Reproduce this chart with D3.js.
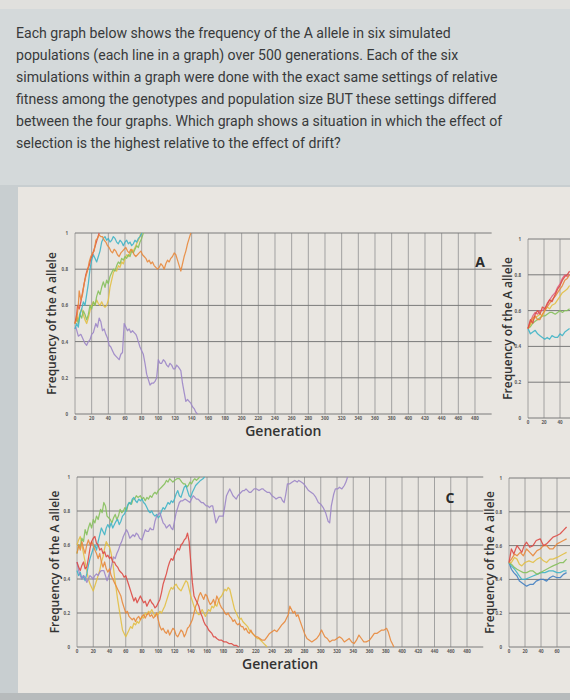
<!DOCTYPE html>
<html>
<head>
<meta charset="utf-8">
<script src="https://cdn.jsdelivr.net/npm/d3@7"></script>
<style>
  html, body { margin: 0; padding: 0; background: #c9cfd1; }
  svg { display: block; }
</style>
</head>
<body>
<svg id="chart" width="570" height="700"></svg>
<script>
// question text, one entry per line
const questionLines = [
  "Each graph below shows the frequency of the A allele in six simulated",
  "populations (each line in a graph) over 500 generations. Each of the six",
  "simulations within a graph were done with the exact same settings of relative",
  "fitness among the genotypes and population size BUT these settings differed",
  "between the four graphs. Which graph shows a situation in which the effect of",
  "selection is the highest relative to the effect of drift?"
];

const yTicks = [0, 0.2, 0.4, 0.6, 0.8, 1];
const yTickLabels = ["0", "0.2", "0.4", "0.6", "0.8", "1"];
const genTicks = d3.range(0, 481, 20); // 0 .. 480
const yTitle = "Frequency of the A allele";
const xTitle = "Generation";

// graph A  [generation, frequency]
const aPurple = [[0,0.47],[1,0.48],[4,0.43],[7,0.44],[10,0.41],[12,0.39],[14,0.38],[16,0.4],[18,0.41],[20,0.44],[22,0.45],[25,0.5],[27,0.48],[29,0.53],[31,0.51],[33,0.46],[35,0.47],[37,0.44],[39,0.42],[41,0.38],[43,0.37],[45,0.35],[47,0.33],[49,0.32],[51,0.31],[53,0.3],[55,0.33],[57,0.34],[59,0.5],[61,0.48],[63,0.46],[65,0.47],[67,0.45],[69,0.46],[71,0.45],[73,0.44],[74,0.43],[76,0.4],[78,0.37],[80,0.35],[82,0.33],[84,0.28],[86,0.22],[88,0.19],[90,0.16],[92,0.17],[94,0.17],[96,0.18],[98,0.2],[100,0.3],[102,0.28],[104,0.28],[106,0.3],[108,0.29],[110,0.27],[112,0.26],[114,0.28],[116,0.27],[118,0.25],[120,0.25],[122,0.27],[124,0.26],[127,0.24],[129,0.17],[131,0.12],[133,0.07],[135,0.08],[137,0.07],[139,0.06],[141,0.04],[143,0.03],[145,0.01],[147,0]];
const aOrange = [[0,0.5],[2,0.52],[4,0.6],[5,0.68],[7,0.63],[9,0.66],[11,0.72],[13,0.76],[15,0.79],[17,0.84],[19,0.87],[21,0.89],[23,0.9],[25,0.96],[27,0.97],[29,0.99],[31,0.98],[33,0.98],[35,0.96],[37,0.95],[39,0.93],[41,0.92],[43,0.9],[45,0.89],[47,0.91],[49,0.9],[51,0.88],[53,0.87],[55,0.89],[57,0.9],[59,0.91],[61,0.92],[63,0.9],[65,0.89],[67,0.91],[69,0.9],[71,0.88],[73,0.87],[75,0.88],[77,0.89],[79,0.9],[81,0.88],[83,0.87],[85,0.86],[87,0.84],[89,0.85],[91,0.83],[93,0.84],[95,0.82],[97,0.81],[99,0.8],[101,0.81],[103,0.83],[105,0.82],[107,0.8],[109,0.83],[111,0.85],[113,0.84],[115,0.86],[117,0.87],[119,0.89],[121,0.88],[123,0.85],[125,0.82],[127,0.79],[129,0.83],[131,0.87],[133,0.9],[135,0.94],[137,0.97],[139,1]];
const aRed = [[0,0.5],[2,0.55],[3,0.6],[5,0.58],[7,0.62],[9,0.67],[11,0.72],[13,0.77],[15,0.8],[17,0.82],[19,0.86],[21,0.88],[23,0.91],[25,0.94],[27,0.97],[29,1]];
const aCyan = [[0,0.47],[2,0.5],[4,0.48],[6,0.55],[8,0.58],[10,0.62],[12,0.6],[14,0.66],[16,0.72],[18,0.8],[20,0.85],[22,0.88],[24,0.86],[26,0.84],[28,0.87],[30,0.9],[32,0.95],[34,0.97],[36,0.98],[38,0.96],[40,0.97],[42,0.95],[44,0.96],[46,0.98],[48,0.97],[50,0.95],[52,0.94],[54,0.96],[56,0.95],[58,0.93],[60,0.95],[62,0.96],[64,0.94],[66,0.95],[68,0.93],[70,0.94],[72,0.96],[74,0.95],[76,0.97],[78,0.98],[80,1]];
const aGreen = [[0,0.5],[2,0.53],[4,0.5],[6,0.55],[8,0.53],[10,0.57],[12,0.55],[14,0.52],[16,0.55],[18,0.6],[20,0.58],[22,0.62],[24,0.6],[26,0.65],[28,0.68],[30,0.66],[32,0.7],[34,0.73],[36,0.7],[38,0.74],[40,0.72],[42,0.76],[44,0.78],[46,0.8],[48,0.79],[50,0.82],[52,0.84],[54,0.83],[56,0.86],[58,0.85],[60,0.87],[62,0.86],[64,0.88],[66,0.87],[68,0.9],[70,0.89],[72,0.91],[74,0.93],[76,0.92],[78,0.95],[80,0.97],[82,1]];
const aYellow = [[0,0.5],[2,0.54],[4,0.52],[6,0.56],[8,0.58],[10,0.55],[12,0.52],[14,0.5],[16,0.53],[18,0.57],[20,0.6],[22,0.62],[24,0.6],[26,0.63],[28,0.61],[30,0.6],[32,0.62],[34,0.6],[36,0.59],[38,0.6],[40,0.63],[42,0.7],[44,0.74],[46,0.78],[48,0.8],[50,0.79],[52,0.82],[54,0.81],[56,0.84],[58,0.83],[60,0.86],[62,0.88],[64,0.87],[66,0.89],[68,0.91],[70,0.9],[72,0.92],[74,0.94],[76,0.96],[78,0.98],[79,1]];

// graph C
const cGreen = [[0,0.55],[2,0.6],[4,0.59],[6,0.64],[8,0.62],[10,0.69],[12,0.66],[14,0.7],[16,0.73],[18,0.7],[20,0.75],[22,0.73],[24,0.77],[26,0.75],[29,0.81],[31,0.79],[33,0.85],[35,0.83],[37,0.77],[39,0.76],[41,0.75],[43,0.73],[45,0.76],[47,0.78],[49,0.75],[51,0.77],[53,0.81],[55,0.79],[57,0.8],[59,0.82],[61,0.8],[63,0.84],[65,0.85],[67,0.84],[69,0.87],[71,0.87],[73,0.89],[75,0.88],[78,0.89],[80,0.87],[82,0.88],[84,0.86],[86,0.88],[88,0.87],[90,0.89],[92,0.88],[94,0.9],[96,0.91],[98,0.9],[100,0.92],[102,0.93],[104,0.94],[106,0.95],[108,0.96],[110,0.98],[112,0.97],[114,0.99],[116,0.98],[118,0.97],[120,0.98],[123,0.99],[126,0.99],[129,0.97],[131,0.96],[133,0.96],[135,0.94],[137,0.95],[139,0.97],[141,0.96],[143,0.98],[145,0.99],[147,0.98],[149,0.99],[151,1]];
const cCyan = [[0,0.45],[2,0.42],[4,0.44],[6,0.4],[8,0.42],[10,0.39],[12,0.43],[14,0.48],[16,0.52],[18,0.55],[20,0.58],[22,0.6],[24,0.57],[26,0.62],[28,0.66],[30,0.7],[32,0.68],[34,0.66],[36,0.7],[38,0.72],[40,0.7],[42,0.73],[44,0.7],[46,0.72],[48,0.74],[50,0.75],[52,0.72],[54,0.74],[56,0.77],[58,0.78],[60,0.8],[62,0.83],[64,0.85],[66,0.84],[68,0.87],[70,0.88],[72,0.86],[74,0.85],[76,0.87],[78,0.86],[80,0.87],[82,0.85],[84,0.84],[86,0.82],[88,0.8],[90,0.79],[92,0.8],[94,0.78],[96,0.77],[98,0.78],[100,0.76],[102,0.77],[104,0.8],[106,0.82],[108,0.81],[110,0.83],[112,0.85],[114,0.84],[116,0.86],[118,0.85],[120,0.87],[122,0.9],[124,0.92],[126,0.89],[128,0.88],[130,0.91],[132,0.94],[134,0.95],[136,0.92],[138,0.89],[140,0.88],[142,0.91],[144,0.93],[146,0.95],[148,0.96],[150,0.97],[152,0.98],[155,0.99],[157,1]];
const cPurple = [[0,0.5],[2,0.45],[4,0.42],[6,0.4],[8,0.42],[10,0.41],[12,0.38],[14,0.4],[16,0.42],[18,0.41],[20,0.4],[22,0.42],[24,0.43],[26,0.42],[28,0.44],[30,0.45],[33,0.45],[35,0.42],[37,0.39],[39,0.42],[41,0.45],[43,0.49],[45,0.53],[47,0.52],[49,0.55],[51,0.57],[53,0.6],[55,0.62],[57,0.65],[59,0.67],[61,0.69],[63,0.67],[65,0.64],[67,0.65],[69,0.66],[71,0.65],[73,0.67],[75,0.66],[77,0.64],[80,0.63],[82,0.66],[84,0.69],[86,0.68],[88,0.68],[90,0.7],[92,0.69],[94,0.69],[96,0.74],[98,0.77],[100,0.78],[102,0.79],[104,0.76],[106,0.73],[108,0.72],[110,0.7],[112,0.71],[114,0.72],[116,0.7],[118,0.69],[120,0.74],[122,0.79],[124,0.82],[126,0.85],[128,0.86],[130,0.86],[133,0.87],[136,0.86],[139,0.85],[141,0.87],[143,0.89],[145,0.88],[147,0.87],[149,0.87],[151,0.86],[153,0.85],[155,0.85],[157,0.84],[159,0.83],[161,0.83],[163,0.82],[165,0.83],[167,0.83],[169,0.78],[171,0.73],[173,0.75],[175,0.77],[178,0.77],[180,0.77],[182,0.83],[184,0.89],[186,0.91],[188,0.93],[190,0.91],[192,0.89],[194,0.88],[196,0.87],[198,0.89],[200,0.9],[202,0.91],[204,0.92],[206,0.92],[208,0.93],[210,0.92],[212,0.91],[214,0.91],[216,0.92],[218,0.93],[221,0.93],[224,0.92],[227,0.93],[229,0.93],[231,0.92],[234,0.91],[237,0.91],[240,0.89],[243,0.88],[245,0.87],[248,0.88],[251,0.88],[253,0.86],[255,0.85],[257,0.9],[259,0.96],[262,0.96],[265,0.97],[268,0.98],[271,0.97],[273,0.98],[276,0.97],[279,0.96],[282,0.94],[285,0.92],[288,0.91],[291,0.9],[294,0.88],[297,0.85],[300,0.84],[303,0.82],[306,0.79],[309,0.74],[311,0.73],[313,0.83],[316,0.9],[318,0.93],[321,0.93],[323,0.94],[326,0.93],[329,0.95],[331,0.97],[333,1]];
const cRed = [[0,0.5],[2,0.47],[4,0.45],[6,0.48],[8,0.5],[10,0.46],[12,0.47],[14,0.52],[16,0.58],[18,0.62],[20,0.64],[22,0.65],[24,0.61],[26,0.6],[28,0.57],[30,0.58],[32,0.55],[34,0.56],[36,0.53],[38,0.54],[40,0.52],[42,0.53],[44,0.5],[46,0.5],[48,0.48],[50,0.47],[52,0.45],[54,0.44],[56,0.43],[58,0.41],[60,0.42],[62,0.39],[64,0.36],[66,0.33],[68,0.3],[70,0.27],[72,0.29],[74,0.26],[76,0.28],[78,0.3],[80,0.28],[82,0.26],[84,0.27],[86,0.24],[88,0.26],[90,0.28],[92,0.26],[94,0.25],[96,0.23],[98,0.24],[100,0.26],[102,0.28],[104,0.32],[106,0.37],[108,0.4],[110,0.43],[112,0.47],[114,0.5],[116,0.52],[118,0.51],[120,0.54],[122,0.56],[124,0.58],[126,0.57],[128,0.6],[130,0.61],[132,0.63],[134,0.64],[136,0.67],[138,0.62],[140,0.5],[142,0.38],[144,0.3],[146,0.28],[148,0.26],[150,0.24],[152,0.2],[154,0.18],[156,0.15],[158,0.13],[160,0.12],[162,0.1],[164,0.09],[166,0.08],[168,0.06],[170,0.06],[172,0.05],[175,0.04],[178,0.04],[181,0.03],[184,0.03],[187,0.02],[190,0.02],[193,0.01],[196,0.01],[199,0]];
const cOrange = [[0,0.55],[2,0.6],[4,0.57],[6,0.62],[8,0.58],[10,0.55],[12,0.6],[14,0.63],[16,0.6],[18,0.62],[20,0.6],[22,0.57],[24,0.55],[26,0.52],[28,0.55],[30,0.5],[32,0.47],[34,0.5],[36,0.46],[38,0.44],[40,0.46],[42,0.42],[44,0.4],[46,0.38],[48,0.36],[50,0.34],[52,0.32],[54,0.3],[56,0.26],[58,0.23],[60,0.2],[62,0.21],[64,0.18],[66,0.17],[68,0.16],[70,0.17],[72,0.15],[74,0.17],[76,0.18],[78,0.16],[80,0.18],[82,0.19],[84,0.17],[86,0.19],[88,0.2],[90,0.18],[92,0.19],[94,0.17],[96,0.18],[98,0.2],[100,0.16],[102,0.12],[104,0.1],[106,0.11],[108,0.09],[110,0.08],[112,0.1],[114,0.07],[116,0.09],[118,0.11],[120,0.1],[122,0.07],[124,0.06],[126,0.08],[128,0.1],[130,0.09],[132,0.06],[134,0.08],[136,0.11],[138,0.12],[140,0.14],[142,0.16],[144,0.2],[146,0.24],[148,0.26],[150,0.3],[152,0.32],[154,0.3],[156,0.28],[158,0.31],[160,0.3],[162,0.27],[164,0.25],[166,0.26],[168,0.28],[170,0.25],[172,0.3],[174,0.28],[176,0.25],[178,0.23],[180,0.22],[182,0.2],[184,0.19],[186,0.2],[188,0.18],[190,0.17],[192,0.15],[194,0.16],[196,0.14],[198,0.13],[200,0.14],[202,0.12],[204,0.12],[206,0.1],[208,0.11],[210,0.09],[212,0.08],[214,0.1],[216,0.08],[218,0.07],[220,0.06],[222,0.06],[225,0.05],[228,0.04],[231,0.04],[234,0.06],[237,0.08],[240,0.09],[243,0.1],[246,0.09],[249,0.11],[252,0.13],[254,0.14],[256,0.15],[258,0.17],[260,0.19],[262,0.24],[264,0.22],[266,0.2],[268,0.21],[270,0.18],[272,0.19],[274,0.16],[277,0.12],[280,0.08],[283,0.05],[286,0.04],[289,0.03],[292,0.04],[295,0.05],[298,0.07],[301,0.1],[303,0.08],[305,0.06],[308,0.05],[311,0.03],[314,0.04],[317,0.04],[320,0.05],[323,0.06],[326,0.05],[329,0.03],[332,0.04],[335,0.05],[338,0.03],[341,0.02],[344,0.04],[347,0.07],[350,0.05],[353,0.03],[356,0.03],[360,0.04],[363,0.06],[366,0.08],[369,0.08],[372,0.09],[375,0.1],[378,0.1],[381,0.11],[383,0.09],[386,0.04],[388,0.02],[390,0]];
const cYellow = [[0,0.6],[2,0.63],[4,0.65],[6,0.6],[8,0.55],[10,0.5],[12,0.45],[14,0.4],[16,0.37],[18,0.35],[20,0.33],[22,0.36],[24,0.39],[26,0.42],[28,0.45],[30,0.5],[32,0.53],[34,0.58],[36,0.62],[38,0.6],[40,0.59],[42,0.55],[44,0.5],[46,0.42],[48,0.35],[50,0.28],[52,0.22],[54,0.16],[56,0.1],[58,0.08],[60,0.06],[62,0.08],[64,0.1],[66,0.12],[68,0.11],[70,0.14],[72,0.13],[74,0.15],[76,0.14],[78,0.16],[80,0.18],[82,0.17],[84,0.2],[86,0.19],[88,0.21],[90,0.2],[92,0.22],[94,0.2],[96,0.18],[98,0.2],[100,0.19],[102,0.21],[104,0.2],[106,0.22],[108,0.24],[110,0.27],[112,0.3],[114,0.33],[116,0.35],[118,0.34],[120,0.36],[122,0.37],[124,0.35],[126,0.34],[128,0.33],[130,0.35],[132,0.37],[134,0.39],[136,0.38],[138,0.34],[140,0.3],[142,0.27],[144,0.24],[146,0.22],[148,0.2],[150,0.19],[152,0.2],[154,0.22],[156,0.2],[158,0.18],[160,0.2],[162,0.22],[164,0.21],[166,0.24],[168,0.23],[170,0.25],[172,0.24],[174,0.27],[176,0.29],[178,0.3],[180,0.32],[182,0.34],[184,0.33],[186,0.35],[188,0.34],[190,0.3],[192,0.26],[194,0.22],[196,0.2],[198,0.18],[200,0.16],[202,0.17],[204,0.15],[206,0.14],[208,0.13],[210,0.12],[212,0.1],[214,0.09],[216,0.08],[218,0.07],[220,0.06],[222,0.05],[224,0.05],[226,0.04],[228,0.03],[230,0.02],[232,0.01],[234,0]];

// graph B (cut off at the right edge)
const bOrange = [[0,0.5],[3,0.53],[6,0.56],[9,0.57],[12,0.55],[15,0.55],[18,0.58],[21,0.6],[24,0.62],[27,0.64],[30,0.66],[34,0.68],[37,0.7],[40,0.72],[43,0.74],[46,0.77],[49,0.78],[52,0.8]];
const bRed = [[0,0.5],[3,0.55],[6,0.53],[9,0.58],[12,0.6],[15,0.58],[18,0.62],[21,0.61],[24,0.64],[27,0.66],[30,0.65],[34,0.69],[37,0.72],[40,0.74],[43,0.77],[46,0.79],[49,0.8],[52,0.82]];
const bPink = [[0,0.5],[3,0.54],[6,0.57],[9,0.59],[12,0.58],[15,0.6],[18,0.6],[21,0.61],[24,0.63],[27,0.66],[30,0.68],[34,0.7],[37,0.73],[40,0.75],[43,0.78],[46,0.8],[49,0.79],[52,0.8]];
const bYellow = [[0,0.5],[3,0.52],[6,0.55],[9,0.56],[12,0.57],[15,0.58],[18,0.57],[21,0.6],[24,0.62],[27,0.61],[30,0.63],[34,0.64],[37,0.66],[40,0.68],[43,0.7],[46,0.71],[49,0.72],[52,0.74]];
const bGreen = [[0,0.5],[3,0.51],[6,0.53],[9,0.54],[12,0.55],[15,0.56],[18,0.57],[21,0.57],[24,0.58],[27,0.59],[30,0.59],[34,0.58],[37,0.59],[40,0.6],[43,0.59],[46,0.6],[49,0.6],[52,0.61]];
const bCyan = [[0,0.5],[3,0.47],[6,0.48],[9,0.49],[12,0.47],[15,0.46],[18,0.45],[21,0.44],[24,0.45],[27,0.44],[30,0.46],[34,0.45],[37,0.45],[40,0.47],[43,0.46],[46,0.48],[49,0.49],[52,0.5]];

// graph D (cut off at the right edge)
const dRed = [[0,0.5],[3,0.58],[6,0.55],[10,0.6],[13,0.58],[16,0.56],[19,0.6],[22,0.62],[26,0.59],[30,0.6],[34,0.63],[39,0.64],[43,0.6],[47,0.61],[51,0.63],[55,0.65],[60,0.66],[64,0.67],[68,0.69],[72,0.71]];
const dOrange = [[0,0.5],[3,0.52],[7,0.55],[10,0.54],[14,0.56],[18,0.54],[22,0.58],[26,0.56],[30,0.54],[35,0.57],[39,0.58],[43,0.6],[47,0.6],[51,0.58],[55,0.58],[60,0.61],[64,0.62],[68,0.63],[72,0.64]];
const dYellow = [[0,0.5],[3,0.5],[7,0.53],[10,0.52],[13,0.49],[16,0.48],[20,0.5],[25,0.51],[30,0.5],[35,0.52],[39,0.53],[43,0.51],[47,0.5],[51,0.52],[55,0.52],[60,0.53],[64,0.54],[68,0.55],[72,0.56]];
const dGreen = [[0,0.5],[3,0.49],[7,0.47],[10,0.46],[14,0.45],[18,0.44],[22,0.44],[26,0.45],[30,0.45],[35,0.43],[39,0.44],[43,0.45],[47,0.46],[51,0.47],[55,0.48],[60,0.49],[64,0.5],[68,0.5],[72,0.52]];
const dBlue = [[0,0.5],[3,0.46],[6,0.44],[10,0.42],[13,0.39],[16,0.38],[19,0.37],[22,0.36],[26,0.37],[30,0.37],[34,0.39],[39,0.4],[43,0.4],[47,0.39],[51,0.41],[55,0.42],[60,0.41],[64,0.41],[68,0.43],[72,0.44]];
const dCyan = [[0,0.5],[3,0.48],[7,0.46],[10,0.44],[13,0.42],[16,0.4],[20,0.4],[25,0.41],[30,0.42],[35,0.43],[40,0.44],[45,0.44],[50,0.45],[55,0.45],[60,0.44],[64,0.44],[68,0.45],[72,0.45]];

const col = {
  orange: "#e8883c", red: "#dd4a45", pink: "#de6384", purple: "#9c86c8",
  cyan: "#3fb4c6", green: "#86c05c", yellow: "#e2bf44", blue: "#4380c2"
};

const svg = d3.select("#chart");
const W = 570;

// photo background: text panel, chart card, edges
svg.append("rect").attr("width", W).attr("height", 700).attr("fill", "#c8ced0");
svg.append("rect").attr("width", W).attr("height", 9).attr("fill", "#e0e0dd");
svg.append("rect").attr("x", 0).attr("y", 9).attr("width", W).attr("height", 176).attr("fill", "#d4d9da");
svg.append("rect").attr("x", 18).attr("y", 187).attr("width", W - 18).attr("height", 506).attr("fill", "#e9e6e1");
svg.append("rect").attr("x", 0).attr("y", 693).attr("width", W).attr("height", 7).attr("fill", "#b7bbbc");

svg.append("g")
  .selectAll("text")
  .data(questionLines)
  .join("text")
  .attr("x", 16)
  .attr("y", (d, i) => 38 + i * 22)
  .attr("font-family", "Roboto, 'Noto Sans', sans-serif")
  .attr("font-size", 14.1)
  .attr("fill", "#383a3b")
  .text((d) => d);

function drawGraph(cfg, series) {
  const g = svg.append("g");

  const x = d3.scaleLinear().domain([0, 500]).range([cfg.left, cfg.left + 500 * cfg.pxPerGen]);
  const y = d3.scaleLinear().domain([0, 1]).range([cfg.bottom, cfg.top]);

  // grid
  g.append("g")
    .selectAll("line")
    .data(genTicks)
    .join("line")
    .attr("x1", (d) => x(d)).attr("x2", (d) => x(d))
    .attr("y1", y(0)).attr("y2", y(1))
    .attr("stroke", "#9a9a9a")
    .attr("stroke-width", 0.9);

  g.append("g")
    .selectAll("line")
    .data(yTicks)
    .join("line")
    .attr("x1", x(0)).attr("x2", x(500))
    .attr("y1", (d) => y(d)).attr("y2", (d) => y(d))
    .attr("stroke", "#7a7a7a")
    .attr("stroke-width", 1);

  // tiny tick labels (only the ones inside the photo)
  g.append("g")
    .selectAll("text")
    .data(yTicks)
    .join("text")
    .attr("x", x(0) - 7)
    .attr("y", (d) => y(d) + 2)
    .attr("text-anchor", "end")
    .attr("font-family", "'Open Sans', sans-serif")
    .attr("font-size", 4.5)
    .attr("font-weight", 700)
    .attr("fill", "#5a5a5a")
    .text((d, i) => yTickLabels[i]);

  g.append("g")
    .selectAll("text")
    .data(genTicks.filter((d) => x(d) < W - 6))
    .join("text")
    .attr("x", (d) => x(d))
    .attr("y", y(0) + 6)
    .attr("text-anchor", "middle")
    .attr("font-family", "'Open Sans', sans-serif")
    .attr("font-size", 4.5)
    .attr("font-weight", 700)
    .attr("fill", "#5a5a5a")
    .text((d) => d);

  // simulation lines
  const line = d3.line().x((d) => x(d[0])).y((d) => y(d[1]));
  g.append("g")
    .selectAll("path")
    .data(series)
    .join("path")
    .attr("fill", "none")
    .attr("stroke", (d) => d.color)
    .attr("stroke-width", 1.25)
    .attr("stroke-opacity", 0.9)
    .attr("stroke-linejoin", "round")
    .attr("d", (d) => line(d.values));

  // titles
  g.append("text")
    .attr("transform", `translate(${cfg.titleX},${(y(0) + y(1)) / 2}) rotate(-90)`)
    .attr("text-anchor", "middle")
    .attr("dy", "0.35em")
    .attr("font-family", "'Open Sans', sans-serif")
    .attr("font-size", 12)
    .attr("font-weight", 600)
    .attr("fill", "#333")
    .text(yTitle);

  if (cfg.showX) {
    g.append("text")
      .attr("x", x(250))
      .attr("y", y(0) + 22)
      .attr("text-anchor", "middle")
      .attr("font-family", "'Open Sans', sans-serif")
      .attr("font-size", 14)
      .attr("font-weight", 600)
      .attr("fill", "#333")
      .text(xTitle);
  }

  if (cfg.letter) {
    g.append("text")
      .attr("x", cfg.letterX)
      .attr("y", cfg.letterY)
      .attr("text-anchor", "middle")
      .attr("font-family", "'Open Sans', sans-serif")
      .attr("font-size", 14)
      .attr("font-weight", 700)
      .attr("fill", "#2c2c2c")
      .text(cfg.letter);
  }
}

drawGraph(
  { left: 75, pxPerGen: 0.8333, top: 233, bottom: 414, titleX: 52, showX: true, letter: "A", letterX: 480, letterY: 267 },
  [
    { color: col.purple, values: aPurple },
    { color: col.yellow, values: aYellow },
    { color: col.green, values: aGreen },
    { color: col.cyan, values: aCyan },
    { color: col.red, values: aRed },
    { color: col.orange, values: aOrange }
  ]
);

drawGraph(
  { left: 77, pxPerGen: 0.8125, top: 477, bottom: 647, titleX: 55, showX: true, letter: "C", letterX: 450, letterY: 503 },
  [
    { color: col.yellow, values: cYellow },
    { color: col.green, values: cGreen },
    { color: col.cyan, values: cCyan },
    { color: col.purple, values: cPurple },
    { color: col.orange, values: cOrange },
    { color: col.red, values: cRed }
  ]
);

drawGraph(
  { left: 528, pxPerGen: 0.8, top: 239, bottom: 418, titleX: 508, showX: false },
  [
    { color: col.cyan, values: bCyan },
    { color: col.green, values: bGreen },
    { color: col.yellow, values: bYellow },
    { color: col.pink, values: bPink },
    { color: col.orange, values: bOrange },
    { color: col.red, values: bRed }
  ]
);

drawGraph(
  { left: 509, pxPerGen: 0.8, top: 478, bottom: 647, titleX: 490, showX: false },
  [
    { color: col.blue, values: dBlue },
    { color: col.cyan, values: dCyan },
    { color: col.green, values: dGreen },
    { color: col.yellow, values: dYellow },
    { color: col.orange, values: dOrange },
    { color: col.red, values: dRed }
  ]
);
</script>
</body>
</html>
